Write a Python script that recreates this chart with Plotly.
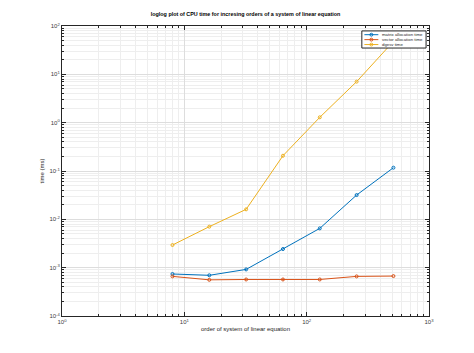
import plotly.graph_objects as go

orders = [8, 16, 32, 64, 128, 256, 512]
matrix_time = [7.4e-4, 6.95e-4, 9.2e-4, 2.43e-3, 6.5e-3, 0.0318, 0.117]
vector_time = [6.6e-4, 5.6e-4, 5.7e-4, 5.7e-4, 5.7e-4, 6.6e-4, 6.7e-4]
dgesv_time = [2.94e-3, 7.05e-3, 0.0161, 0.207, 1.29, 7.05, 48.0]

names = ["matrix allocation time", "vector allocation time", "dgesv time"]
colors = ["#0072BD", "#D95319", "#EDB120"]

xtickvals = [1, 10, 100, 1000]
xticktext = ["10<sup>0</sup>", "10<sup>1</sup>", "10<sup>2</sup>", "10<sup>3</sup>"]
ytickvals = [1e-4, 1e-3, 1e-2, 1e-1, 1, 10, 100]
yticktext = ["10<sup>-4</sup>", "10<sup>-3</sup>", "10<sup>-2</sup>", "10<sup>-1</sup>",
             "10<sup>0</sup>", "10<sup>1</sup>", "10<sup>2</sup>"]

x_minor = [m * 10 ** k for k in range(0, 3) for m in range(2, 10)]
y_minor = [m * 10.0 ** k for k in range(-4, 2) for m in range(2, 10)]

fig = go.Figure()
for name, ys, c in zip(names, [matrix_time, vector_time, dgesv_time], colors):
    fig.add_trace(go.Scatter(x=orders, y=ys, name=name, mode="lines+markers", showlegend=False,
                             line=dict(color=c, width=1),
                             marker=dict(symbol="circle-open", size=3, color=c, line=dict(width=1))))

axis_common = dict(
    type="log", showline=True, linecolor="#262626", linewidth=1, mirror="ticks",
    ticks="inside", ticklen=4, tickcolor="#262626",
    showgrid=True, gridcolor="#dddddd", gridwidth=1, zeroline=False,
    tickfont=dict(size=6, color="#404040"),
)

fig.update_xaxes(range=[0, 3], tickvals=xtickvals, ticktext=xticktext,
                 minor=dict(tickvals=x_minor, showgrid=True, gridcolor="#eeeeee",
                            ticks="inside", ticklen=2, tickcolor="#262626"),
                 title=dict(text="order of system of linear equation", font=dict(size=6, color="#262626"), standoff=2),
                 **axis_common)
fig.update_yaxes(range=[-4, 2], tickvals=ytickvals, ticktext=yticktext,
                 minor=dict(tickvals=y_minor, showgrid=True, gridcolor="#eeeeee",
                            ticks="inside", ticklen=2, tickcolor="#262626"),
                 title=dict(text="time (ms)", font=dict(size=6, color="#262626"), standoff=4),
                 **axis_common)

# manual compact legend (paper coordinates)
lx0, lx1, ly0, ly1 = 0.817, 0.992, 0.924, 0.983
shapes = [dict(type="rect", xref="paper", yref="paper", x0=lx0, x1=lx1, y0=ly0, y1=ly1,
               line=dict(color="#262626", width=1), fillcolor="white", layer="above")]
annotations = []
row_y = [0.970, 0.953, 0.936]
for name, c, ry in zip(names, colors, row_y):
    shapes.append(dict(type="line", xref="paper", yref="paper", x0=0.824, x1=0.862, y0=ry, y1=ry,
                       line=dict(color=c, width=1), layer="above"))
    shapes.append(dict(type="circle", xref="paper", yref="paper", x0=0.839, x1=0.847,
                       y0=ry - 0.005, y1=ry + 0.005, line=dict(color=c, width=1), layer="above"))
    annotations.append(dict(text=name, xref="paper", yref="paper", x=0.866, y=ry,
                            xanchor="left", yanchor="middle", showarrow=False,
                            font=dict(size=4.3, color="#262626")))

fig.update_layout(
    width=474, height=353,
    margin=dict(l=62, r=45, t=26, b=37),
    paper_bgcolor="white", plot_bgcolor="white",
    font=dict(family="Liberation Sans, Arial, sans-serif", size=6, color="#262626"),
    title=dict(text="<b>loglog plot of CPU time for incresing orders of a system of linear equation</b>",
               x=0.518, xanchor="center", y=0.955, yanchor="bottom", font=dict(size=5.4, color="#000")),
    shapes=shapes, annotations=annotations,
    showlegend=False,
)

fig.write_html("out.html")
